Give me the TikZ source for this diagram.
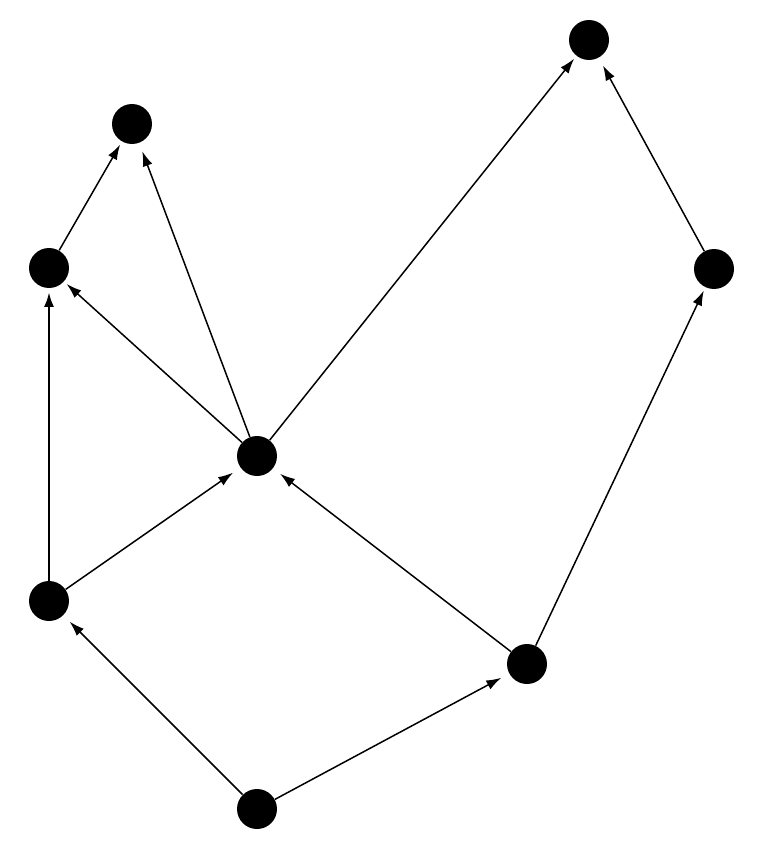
\documentclass[tikz,border=0pt]{standalone}
\usetikzlibrary{arrows.meta}

\tikzset{
  vtx/.style={circle,fill=black,draw=none,minimum size=0.8cm,inner sep=0pt},
  edge/.style={-{Latex[length=0.3cm,width=0.2cm]},line width=0.85pt,shorten >=2pt}
}

\begin{document}
\begin{tikzpicture}[x=0.02cm,y=-0.02cm]

\useasboundingbox (0,0) rectangle (766,859);

\node[vtx] (V1) at (132,124) {};
\node[vtx] (V2) at (589,40) {};
\node[vtx] (V3) at (49,268) {};
\node[vtx] (V4) at (714,269) {};
\node[vtx] (V5) at (257,456) {};
\node[vtx] (V6) at (49,601) {};
\node[vtx] (V7) at (527,664) {};
\node[vtx] (V8) at (257,809) {};

\draw[edge] (V3) -- (V1);
\draw[edge,shorten >=5pt] (V5) -- (V1);
\draw[edge] (V5) -- (V3);
\draw[edge] (V5) -- (V2);
\draw[edge,line width=1.6pt] (V6) -- (V3);
\draw[edge,shorten >=5pt] (V6) -- (V5);
\draw[edge,shorten >=5pt] (V7) -- (V5);
\draw[edge] (V7) -- (V4);
\draw[edge,shorten >=5pt] (V4) -- (V2);
\draw[edge,shorten >=5pt] (V8) -- (V6);
\draw[edge,shorten >=5pt] (V8) -- (V7);

\end{tikzpicture}
\end{document}
